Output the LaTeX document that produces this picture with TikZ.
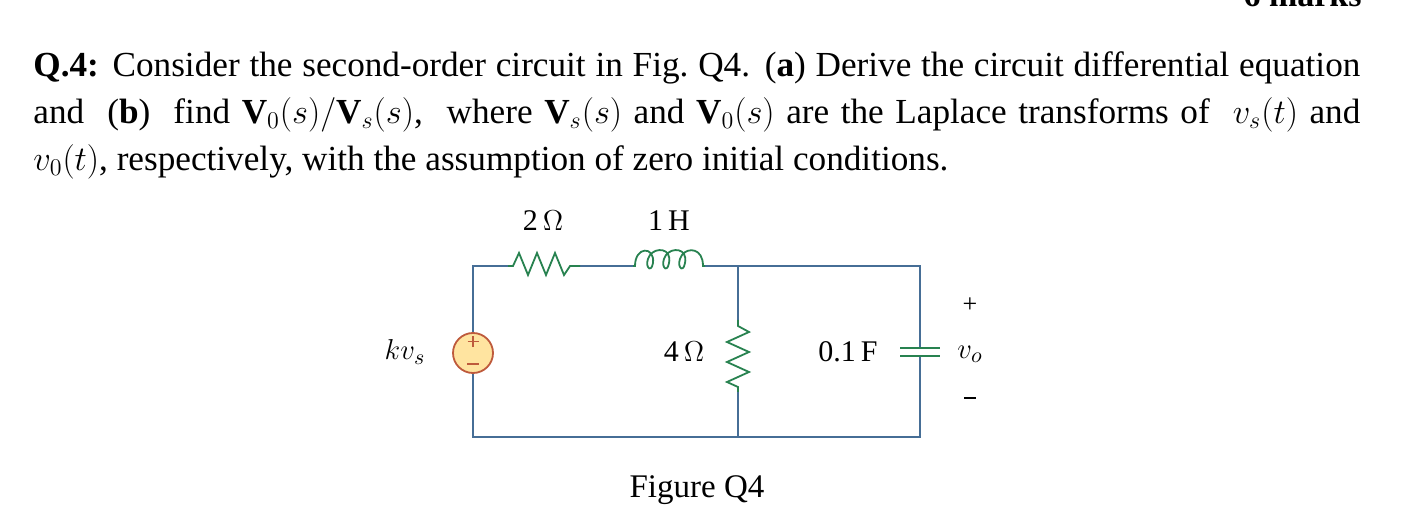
\documentclass[tikz,border=0pt]{standalone}
\usepackage{fontspec}
\setmainfont{Liberation Serif}
\usetikzlibrary{decorations.pathmorphing}
\definecolor{wire}{RGB}{70,110,150}
\definecolor{comp}{RGB}{40,130,80}
\definecolor{srcfill}{RGB}{255,228,160}
\definecolor{srcedge}{RGB}{190,90,60}
\begin{document}
\begin{tikzpicture}[x=0.5pt,y=-0.5pt,
  wirel/.style={draw=wire,line width=0.9pt},
  compl/.style={draw=comp,line width=0.9pt},
  lbl/.style={inner sep=0pt,font=\fontsize{15}{18}\selectfont}]
\useasboundingbox (0,0) rectangle (1409,513);
\clip (0,0) rectangle (1409,513);
% cut-off header
\node[anchor=base east,inner sep=0pt,font=\bfseries\fontsize{17}{20}\selectfont] (hdr) at (1362,7) {6 marks};
% question text
\node[anchor=north west,inner sep=0pt,text width=663.5pt,align=justify,
  font=\fontsize{17.6}{23.5}\selectfont] (q) at (33,51)
{\textbf{Q.4:} Consider the second-order circuit in Fig.~Q4. (\textbf{a}) Derive the circuit differential equation\linebreak and \ (\textbf{b}) \ find $\mathbf{V}_0(s)/\mathbf{V}_s(s)$, \ where $\mathbf{V}_s(s)$ and $\mathbf{V}_0(s)$ are the Laplace transforms of \ $v_s(t)$ and\linebreak $v_0(t)$, respectively, with the assumption of zero initial conditions.\par};
% wires
\coordinate (tl) at (473,266); \coordinate (tm) at (738,266); \coordinate (tr) at (920,266);
\coordinate (bl) at (473,437); \coordinate (bm) at (738,437); \coordinate (br) at (920,437);
\draw[wirel] (473,333) -- (tl) -- (508,266);
\draw[wirel] (580,266) -- (633,266);
\draw[wirel] (705,266) -- (tr) -- (920,348);
\draw[wirel] (tm) -- (738,320);
\draw[wirel] (738,392) -- (bm);
\draw[wirel] (473,373) -- (bl) -- (br) -- (920,356);
% 2 ohm resistor
\draw[compl] (508,266) -- (513,266) -- (519,253) -- (528,275) -- (537,253) -- (546,275) -- (555,253) -- (564,275) -- (570,266) -- (580,266);
% inductor
\draw[compl] (633,266) -- (635,266) .. controls (635,246) and (655,246) .. (653,263)
  .. controls (651,275) and (643,265) .. (650,255) .. controls (656,247) and (672,248) .. (669,263)
  .. controls (667,275) and (659,265) .. (666,255) .. controls (672,247) and (688,248) .. (685,263)
  .. controls (683,275) and (675,265) .. (682,255) .. controls (688,247) and (703,248) .. (703,266) -- (705,266);
% 4 ohm resistor
\draw[compl] (738,320) -- (738,326) -- (749,332) -- (727,342) -- (749,352) -- (727,362) -- (749,372) -- (727,382) -- (738,387) -- (738,392);
% capacitor
\draw[compl,line width=1.1pt] (900,348) -- (940,348) (900,356) -- (940,356);
% source
\node[circle,draw=srcedge,fill=srcfill,line width=0.9pt,inner sep=0pt,minimum size=20pt] (src) at (473,353) {};
\draw[srcedge,line width=0.9pt] (473,336) -- (473,347) (467.5,341.5) -- (478.5,341.5) (467,364) -- (479,364);
% labels
\node[lbl] (l2) at (543,221) {2\,$\Omega$};
\node[lbl] (l1) at (669,221) {1\,H};
\node[lbl] (l4) at (684,352) {4\,$\Omega$};
\node[lbl] (lc) at (848,352) {0.1\,F};
\node[lbl] (lk) at (405,352) {$kv_s$};
\node[lbl,font=\fontsize{13}{15}\selectfont] (lp) at (970,305) {+};
\node[lbl] (lv) at (970,354) {$v_o$};
\node[lbl] (lm) at (970,398) {\rule{6pt}{0.6pt}};
\node[inner sep=0pt,font=\fontsize{16.5}{20}\selectfont] (fig) at (697,490) {Figure Q4};
\end{tikzpicture}
\end{document}
